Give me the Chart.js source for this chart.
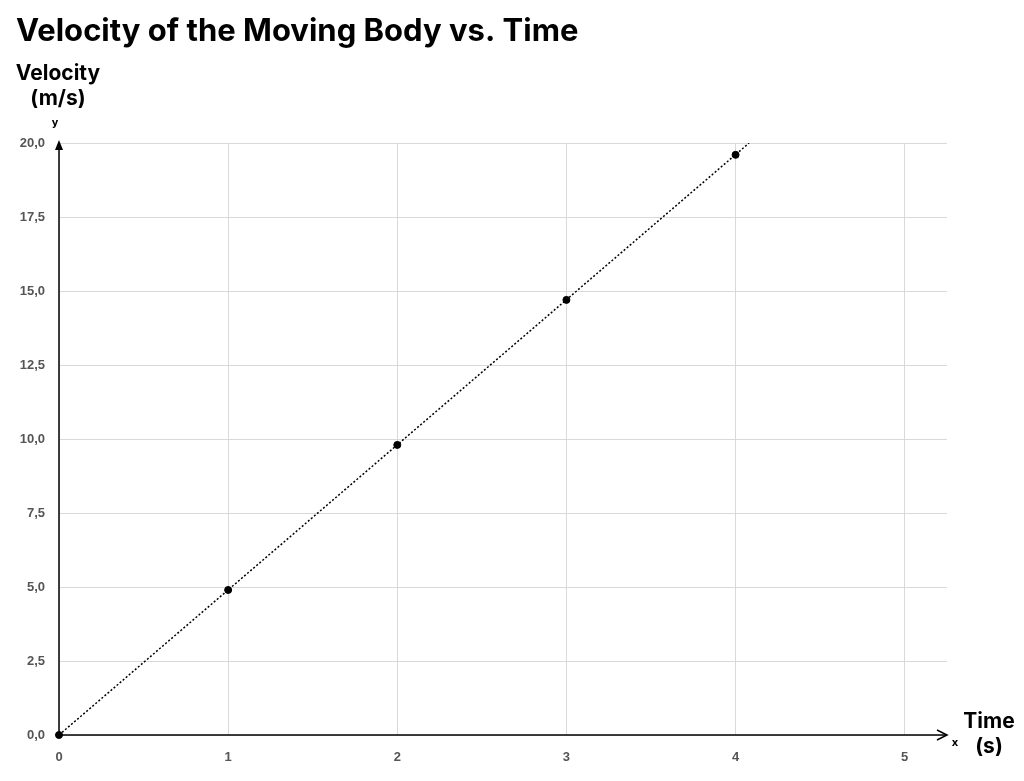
<!DOCTYPE html>
<html>
<head>
<meta charset="utf-8">
<script src="https://cdn.jsdelivr.net/npm/chart.js@4"></script>
<style>
  html, body { margin: 0; padding: 0; background: #fff; }
  #wrap { width: 1024px; height: 781px; }
</style>
</head>
<body>
<div id="wrap"><canvas id="velChart" width="1024" height="781"></canvas></div>
<script>
// measured points: time (s) and velocity (m/s)
const times = [0, 1, 2, 3, 4];
const velocities = [0, 4.9, 9.8, 14.7, 19.6];
// dotted trend line, runs off the top of the plot
const trendX = [0, 4.08];
const trendY = [0, 20];
const xTicks = [0, 1, 2, 3, 4, 5];
const yTicks = [0, 2.5, 5, 7.5, 10, 12.5, 15, 17.5, 20];

const fmt = v => v.toFixed(1).replace('.', ',');

// axes with arrows go under the marks, texts on top
const axisArrows = {
  id: 'axisArrows',
  beforeDatasetsDraw(chart) {
    const { ctx, chartArea: a, scales } = chart;
    const x0 = scales.x.getPixelForValue(0);
    const y0 = scales.y.getPixelForValue(0);
    ctx.save();
    ctx.strokeStyle = '#000';
    ctx.fillStyle = '#000';
    ctx.lineWidth = 1.5;
    ctx.beginPath();
    ctx.moveTo(x0, y0);
    ctx.lineTo(x0, a.top + 2);
    ctx.stroke();
    ctx.beginPath();
    ctx.moveTo(x0, a.top - 3);
    ctx.lineTo(x0 - 4, a.top + 7);
    ctx.lineTo(x0 + 4, a.top + 7);
    ctx.closePath();
    ctx.fill();
    ctx.beginPath();
    ctx.moveTo(x0, y0);
    ctx.lineTo(a.right, y0);
    ctx.stroke();
    ctx.beginPath();
    ctx.moveTo(a.right - 10, y0 - 5);
    ctx.lineTo(a.right, y0);
    ctx.lineTo(a.right - 10, y0 + 5);
    ctx.stroke();
    ctx.restore();
  },
  afterDraw(chart) {
    const { ctx, chartArea: a, scales } = chart;
    const x0 = scales.x.getPixelForValue(0);
    const y0 = scales.y.getPixelForValue(0);
    ctx.save();
    ctx.fillStyle = '#000';
    ctx.font = 'bold 10px "DejaVu Sans"';
    ctx.textAlign = 'center';
    ctx.textBaseline = 'middle';
    ctx.fillText('y', x0 - 4, a.top - 20);
    ctx.fillText('x', a.right + 8, y0 + 8);

    ctx.textAlign = 'left';
    ctx.textBaseline = 'alphabetic';
    ctx.font = 'bold 31px Inter';
    ctx.fillText('Velocity of the Moving Body vs. Time', 16, 41);
    ctx.font = 'bold 21px Inter';
    ctx.textAlign = 'center';
    ctx.fillText('Velocity', 58, 80);
    ctx.fillText('(m/s)', 58, 105);
    ctx.fillText('Time', 989, 728);
    ctx.fillText('(s)', 989, 753);
    ctx.restore();
  }
};

new Chart(document.getElementById('velChart'), {
  type: 'scatter',
  data: {
    datasets: [
      {
        type: 'line',
        data: trendX.map((x, i) => ({ x, y: trendY[i] })),
        borderColor: '#000',
        borderWidth: 1.5,
        borderDash: [2, 2],
        pointRadius: 0,
        fill: false
      },
      {
        data: times.map((t, i) => ({ x: t, y: velocities[i] })),
        backgroundColor: '#000',
        borderColor: '#000',
        pointRadius: 3.5,
        clip: false
      }
    ]
  },
  plugins: [axisArrows],
  options: {
    responsive: false,
    animation: false,
    layout: { padding: { top: 143, right: 77, left: 0, bottom: 0 } },
    plugins: {
      legend: { display: false },
      tooltip: { enabled: false }
    },
    scales: {
      x: {
        type: 'linear',
        min: 0,
        max: 5.25,
        afterBuildTicks: s => { s.ticks = xTicks.map(v => ({ value: v })); },
        afterFit: s => { s.height = 46; },
        border: { display: false },
        grid: { color: '#d9d9d9', drawTicks: false },
        ticks: {
          padding: 15,
          color: '#555',
          font: { family: 'Liberation Sans', weight: 'bold', size: 13 }
        }
      },
      y: {
        min: 0,
        max: 20,
        afterBuildTicks: s => { s.ticks = yTicks.map(v => ({ value: v })); },
        afterFit: s => { s.width = 59; },
        border: { display: false },
        grid: { color: '#d9d9d9', drawTicks: false },
        ticks: {
          padding: 14,
          color: '#555',
          callback: v => fmt(v),
          font: { family: 'Liberation Sans', weight: 'bold', size: 13 }
        }
      }
    }
  }
});
</script>
</body>
</html>
